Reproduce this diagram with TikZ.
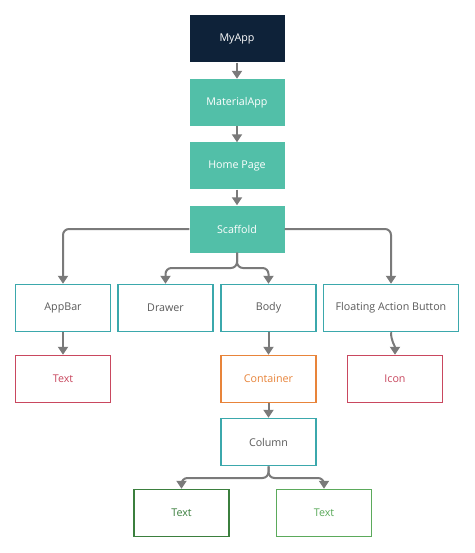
\documentclass[tikz,border=0pt]{standalone}
\usepackage{fontspec}
\setmainfont{Open Sans}
\usetikzlibrary{arrows.meta}

\definecolor{navy}{HTML}{0E2239}
\definecolor{mint}{HTML}{52BFA8}
\definecolor{tealline}{HTML}{3BA8AC}
\definecolor{rosered}{HTML}{C9485F}
\definecolor{amber}{HTML}{E8843A}
\definecolor{darkgreen}{HTML}{3B7F3E}
\definecolor{lightgreen}{HTML}{5BAA5B}
\definecolor{arrowgray}{HTML}{7A7A7A}
\definecolor{labelgray}{HTML}{5A5A5A}

\tikzset{
  box/.style={minimum width=95pt,minimum height=47pt,inner sep=0pt,font=\fontsize{10.7}{12}\selectfont},
  filledbox/.style={box,fill=#1,text=white},
  linebox/.style={box,draw=#1,line width=1.5pt,fill=white},
  conn/.style={-{Triangle[width=10pt,length=8pt]},draw=arrowgray,line width=2pt,rounded corners=6pt}
}

\begin{document}
\begin{tikzpicture}[x=1pt,y=-1pt]
  \useasboundingbox (0,0) rectangle (474,553);

  \node[filledbox=navy] (myapp) at (237,39) {MyApp};
  \node[filledbox=mint] (material) at (237,102.5) {MaterialApp};
  \node[filledbox=mint] (home) at (237,166) {Home Page};
  \node[filledbox=mint] (scaffold) at (237,229) {Scaffold};

  \node[linebox=tealline,text=labelgray] (appbar) at (63,308) {AppBar};
  \node[linebox=tealline,text=labelgray] (drawer) at (165.5,308) {Drawer};
  \node[linebox=tealline,text=labelgray] (body) at (268.5,308) {Body};
  \node[linebox=tealline,text=labelgray,minimum width=135pt] (fab) at (391,308) {Floating Action Button};

  \node[linebox=rosered,text=rosered] (bartext) at (63,379) {Text};
  \node[linebox=amber,text=amber] (container) at (268.5,379) {Container};
  \node[linebox=rosered,text=rosered] (icon) at (395,379) {Icon};

  \node[linebox=tealline,text=labelgray] (column) at (268.5,442) {Column};
  \node[linebox=darkgreen,text=darkgreen] (lefttext) at (181.5,513) {Text};
  \node[linebox=lightgreen,text=lightgreen] (righttext) at (324,513) {Text};

  \coordinate (scaffoldsplit) at (237,268);
  \coordinate (columnsplit) at (268.5,478);

  % top chain
  \draw[conn] (myapp) -- (material);
  \draw[conn] (material) -- (home);
  \draw[conn] (home) -- (scaffold);

  % scaffold children
  \draw[conn] (scaffold.west) -| (appbar.north);
  \draw[conn] (scaffold.east) -| (fab.north);
  \draw[conn] (scaffold.south) -- (scaffoldsplit) -| (drawer.north);
  \draw[conn] (scaffold.south) -- (scaffoldsplit) -| (body.north);

  % lower levels
  \draw[conn] (appbar) -- (bartext);
  \draw[conn] (body) -- (container);
  \draw[conn] (fab.south) to[out=-90,in=90] (icon.north);
  \draw[conn] (container) -- (column);
  \draw[conn] (column.south) -- (columnsplit) -| (lefttext.north);
  \draw[conn] (column.south) -- (columnsplit) -| (righttext.north);
\end{tikzpicture}
\end{document}
